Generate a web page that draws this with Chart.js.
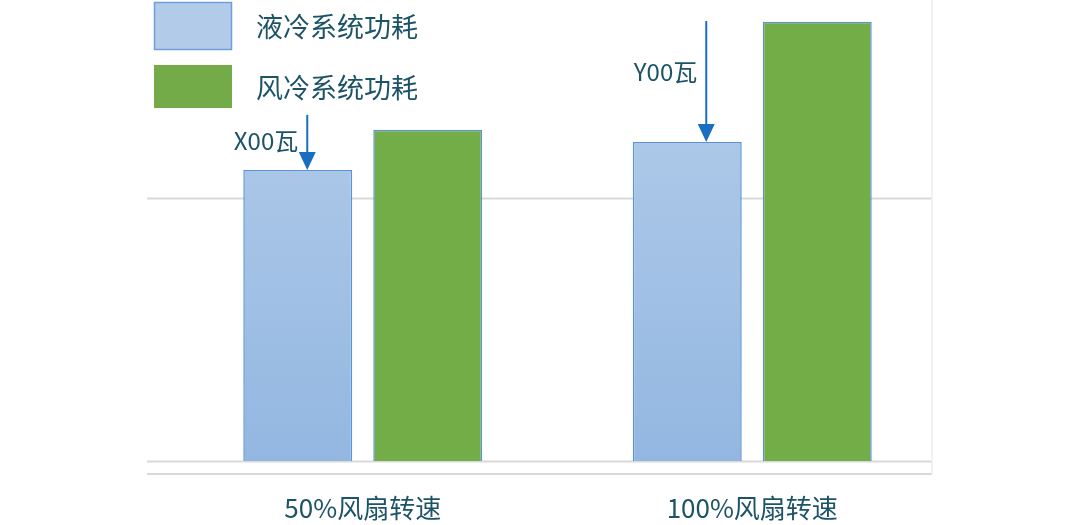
<!DOCTYPE html>
<html>
<head>
<meta charset="utf-8">
<script src="https://cdn.jsdelivr.net/npm/chart.js@4"></script>
<style>
  html, body { margin: 0; padding: 0; background: #fff; }
  #wrap { width: 1080px; height: 525px; }
</style>
</head>
<body>
<div id="wrap"><canvas id="myChart"></canvas></div>
<script>
const categories = ["50%风扇转速", "100%风扇转速"];
const seriesNames = ["液冷系统功耗", "风冷系统功耗"];
const liquidPower = [110.5, 121.1];
const airPower = [125.7, 166.7];
const gridTicks = [0, 100];
const noteTexts = ["X00瓦", "Y00瓦"];
const noteFrom = [131.4, 167.0];

const FONT = "'Noto Sans CJK SC', 'Noto Sans', sans-serif";
const TEXT = "#1d5367";
const ARROW = "#1a6ec2";

function blueFill(ctx) {
  const area = ctx.chart.chartArea;
  if (!area) return "#a6c3e6";
  const g = ctx.chart.ctx.createLinearGradient(0, area.top, 0, area.bottom);
  g.addColorStop(0, "#b7cfeb");
  g.addColorStop(1, "#93b7e1");
  return g;
}

// excel-ish gridlines, a bit wider than the plot area
const gridPlugin = {
  id: "gridLines",
  beforeDatasetsDraw(chart) {
    const { ctx, chartArea, scales } = chart;
    const left = chartArea.left - 21, right = chartArea.right - 15;
    ctx.save();
    ctx.strokeStyle = "#d9d9d9";
    ctx.lineWidth = 2;
    gridTicks.forEach(v => {
      const y = Math.round(scales.y.getPixelForValue(v)) + 0.5;
      ctx.beginPath(); ctx.moveTo(left, y); ctx.lineTo(right, y); ctx.stroke();
    });
    const y2 = scales.y.getPixelForValue(0) + 13;
    ctx.beginPath(); ctx.moveTo(left, y2); ctx.lineTo(right, y2); ctx.stroke();
    ctx.strokeStyle = "#eeeeee";
    ctx.lineWidth = 1.5;
    ctx.beginPath(); ctx.moveTo(right, 0); ctx.lineTo(right, y2); ctx.stroke();
    ctx.restore();
  }
};

const notePlugin = {
  id: "notes",
  afterDatasetsDraw(chart, args, opts) {
    const { ctx, scales } = chart;
    const bars = chart.getDatasetMeta(0).data;
    ctx.save();
    noteTexts.forEach((txt, i) => {
      const bar = bars[i];
      const x = bar.x + opts.shift[i];
      const yTop = scales.y.getPixelForValue(noteFrom[i]);
      const yEnd = bar.y;
      ctx.strokeStyle = ARROW;
      ctx.fillStyle = ARROW;
      ctx.lineWidth = 2;
      ctx.beginPath(); ctx.moveTo(x, yTop); ctx.lineTo(x, yEnd - 14); ctx.stroke();
      ctx.beginPath();
      ctx.moveTo(x - 8.5, yEnd - 18);
      ctx.lineTo(x + 8.5, yEnd - 18);
      ctx.lineTo(x, yEnd);
      ctx.closePath(); ctx.fill();
      ctx.fillStyle = TEXT;
      ctx.font = "24px " + FONT;
      ctx.textAlign = "right";
      ctx.textBaseline = "middle";
      ctx.fillText(txt, x - 9, (yTop + yEnd) / 2 + opts.textDy[i]);
    });
    ctx.restore();
  }
};

const legendPlugin = {
  id: "bigLegend",
  afterDraw(chart) {
    const { ctx } = chart;
    const boxes = [
      { y: 2, h: 48, fill: "#b2cbe9", stroke: "#6f9fd8" },
      { y: 65, h: 43, fill: "#72ab47", stroke: null }
    ];
    ctx.save();
    chart.data.datasets.forEach((ds, i) => {
      const b = boxes[i];
      ctx.fillStyle = b.fill;
      ctx.fillRect(154, b.y, 78, b.h);
      if (b.stroke) {
        ctx.strokeStyle = b.stroke; ctx.lineWidth = 1.5;
        ctx.strokeRect(154.5, b.y + 0.5, 77, b.h - 1);
      }
      ctx.fillStyle = TEXT;
      ctx.font = "27px " + FONT;
      ctx.textAlign = "left";
      ctx.textBaseline = "middle";
      ctx.fillText(ds.label, 256, b.y + b.h / 2 + 1);
    });
    ctx.restore();
  }
};

new Chart("myChart", {
  type: "bar",
  data: {
    labels: categories,
    datasets: [
      {
        label: seriesNames[0],
        data: liquidPower,
        backgroundColor: blueFill,
        borderColor: "#5b93d3",
        borderWidth: 1.5
      },
      {
        label: seriesNames[1],
        data: airPower,
        backgroundColor: "#72ad47",
        borderColor: "#5b93d3",
        borderWidth: 1.5
      }
    ]
  },
  options: {
    responsive: true,
    maintainAspectRatio: false,
    animation: false,
    categoryPercentage: 0.6675,
    barPercentage: 0.838,
    layout: { padding: { left: 168, right: 133, top: 0, bottom: 0 } },
    scales: {
      x: {
        grid: { display: false, drawTicks: false },
        border: { display: false },
        afterFit(scale) { scale.height = 64; },
        ticks: {
          padding: 32,
          color: TEXT,
          font: { size: 26, family: FONT }
        }
      },
      y: {
        display: false,
        min: 0,
        max: 175
      }
    },
    plugins: {
      legend: { display: false },
      tooltip: { enabled: false },
      notes: { shift: [9.5, 19], textDy: [-2, -10] }
    }
  },
  plugins: [gridPlugin, notePlugin, legendPlugin]
});
</script>
</body>
</html>
